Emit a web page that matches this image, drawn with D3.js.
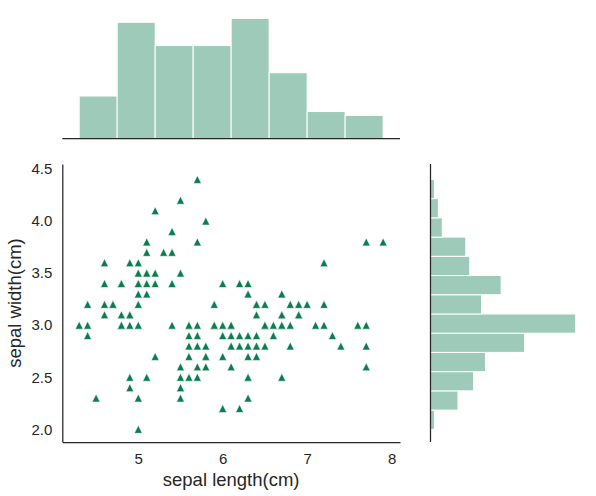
<!DOCTYPE html>
<html lang="en">
<head>
<meta charset="UTF-8">
<title>Iris jointplot</title>
<script src="https://d3js.org/d3.v7.min.js"></script>
<style>
  body { margin: 0; background: #fff; }
  text { font-family: "Liberation Sans", Arial, sans-serif; fill: #262626; }
</style>
</head>
<body>
<div id="chart"></div>
<script>
// iris data: sepal length / sepal width (cm)
const sepalLength = [
  5.1,4.9,4.7,4.6,5.0,5.4,4.6,5.0,4.4,4.9,5.4,4.8,4.8,4.3,5.8,5.7,5.4,5.1,5.7,5.1,
  5.4,5.1,4.6,5.1,4.8,5.0,5.0,5.2,5.2,4.7,4.8,5.4,5.2,5.5,4.9,5.0,5.5,4.9,4.4,5.1,
  5.0,4.5,4.4,5.0,5.1,4.8,5.1,4.6,5.3,5.0,
  7.0,6.4,6.9,5.5,6.5,5.7,6.3,4.9,6.6,5.2,5.0,5.9,6.0,6.1,5.6,6.7,5.6,5.8,6.2,5.6,
  5.9,6.1,6.3,6.1,6.4,6.6,6.8,6.7,6.0,5.7,5.5,5.5,5.8,6.0,5.4,6.0,6.7,6.3,5.6,5.5,
  5.5,6.1,5.8,5.0,5.6,5.7,5.7,6.2,5.1,5.7,
  6.3,5.8,7.1,6.3,6.5,7.6,4.9,7.3,6.7,7.2,6.5,6.4,6.8,5.7,5.8,6.4,6.5,7.7,7.7,6.0,
  6.9,5.6,7.7,6.3,6.7,7.2,6.2,6.1,6.4,7.2,7.4,7.9,6.4,6.3,6.1,7.7,6.3,6.4,6.0,6.9,
  6.7,6.9,5.8,6.8,6.7,6.7,6.3,6.5,6.2,5.9
];
const sepalWidth = [
  3.5,3.0,3.2,3.1,3.6,3.9,3.4,3.4,2.9,3.1,3.7,3.4,3.0,3.0,4.0,4.4,3.9,3.5,3.8,3.8,
  3.4,3.7,3.6,3.3,3.4,3.0,3.4,3.5,3.4,3.2,3.1,3.4,4.1,4.2,3.1,3.2,3.5,3.6,3.0,3.4,
  3.5,2.3,3.2,3.5,3.8,3.0,3.8,3.2,3.7,3.3,
  3.2,3.2,3.1,2.3,2.8,2.8,3.3,2.4,2.9,2.7,2.0,3.0,2.2,2.9,2.9,3.1,3.0,2.7,2.2,2.5,
  3.2,2.8,2.5,2.8,2.9,3.0,2.8,3.0,2.9,2.6,2.4,2.4,2.7,2.7,3.0,3.4,3.1,2.3,3.0,2.5,
  2.6,3.0,2.6,2.3,2.7,3.0,2.9,2.9,2.5,2.8,
  3.3,2.7,3.0,2.9,3.0,3.0,2.5,2.9,2.5,3.6,3.2,2.7,3.0,2.5,2.8,3.2,3.0,3.8,2.6,2.2,
  3.2,2.8,2.8,2.7,3.3,3.2,2.8,3.0,2.8,3.0,2.8,3.8,2.8,2.8,2.6,3.0,3.4,3.1,3.0,3.1,
  3.1,3.1,2.7,3.2,3.3,3.0,2.5,3.0,3.4,3.0
];
const xTicks = [5, 6, 7, 8];
const yTicks = [2.0, 2.5, 3.0, 3.5, 4.0, 4.5];
const topBinCount = 8;
const rightBinCount = 13;

const W = 596, H = 496;
const mainColor = "#0c7d50";

const svg = d3.select("#chart").append("svg")
  .attr("width", W).attr("height", H);
svg.append("rect").attr("width", W).attr("height", H).attr("fill", "#fff");

// scales for the joint axes
const x = d3.scaleLinear().domain([4.1, 8.1]).range([62.3, 400]);
const y = d3.scaleLinear().domain([1.878, 4.548]).range([442, 164]);

// bins with equal widths over the data range (edge values go to the upper bin)
function makeBins(values, n) {
  const [lo, hi] = d3.extent(values);
  const step = (hi - lo) / n;
  const th = d3.range(1, n).map(i => lo + i * step - 1e-9);
  const bins = d3.bin().domain([lo, hi]).thresholds(th)(values);
  bins.forEach((b, i) => { b.x0 = lo + i * step; b.x1 = lo + (i + 1) * step; });
  return bins;
}
const lengthBins = makeBins(sepalLength, topBinCount);
const widthBins = makeBins(sepalWidth, rightBinCount);

// top marginal histogram
const lenMax = d3.max(lengthBins, b => b.length);
const yTop = d3.scaleLinear().domain([0, lenMax * 1.05]).range([138.7, 12.4]);
svg.append("g").selectAll("rect")
  .data(lengthBins)
  .join("rect")
  .attr("x", b => x(b.x0))
  .attr("width", b => x(b.x1) - x(b.x0))
  .attr("y", b => yTop(b.length))
  .attr("height", b => yTop(0) - yTop(b.length))
  .attr("fill", mainColor).attr("fill-opacity", 0.4)
  .attr("stroke", "#fff").attr("stroke-width", 1);
svg.append("line")
  .attr("x1", x.range()[0]).attr("x2", x.range()[1])
  .attr("y1", yTop(0)).attr("y2", yTop(0))
  .attr("stroke", "#262626").attr("stroke-width", 1.25);

// right marginal histogram
const widMax = d3.max(widthBins, b => b.length);
const xRight = d3.scaleLinear().domain([0, widMax * 1.05]).range([430.5, 583]);
svg.append("g").selectAll("rect")
  .data(widthBins)
  .join("rect")
  .attr("x", xRight(0))
  .attr("width", b => xRight(b.length) - xRight(0))
  .attr("y", b => y(b.x1))
  .attr("height", b => y(b.x0) - y(b.x1))
  .attr("fill", mainColor).attr("fill-opacity", 0.4)
  .attr("stroke", "#fff").attr("stroke-width", 1);
svg.append("line")
  .attr("x1", xRight(0)).attr("x2", xRight(0))
  .attr("y1", y.range()[1]).attr("y2", y.range()[0])
  .attr("stroke", "#262626").attr("stroke-width", 1.25);

// scatter of triangles
const triangle = {
  draw(ctx, size) {
    const r = Math.sqrt(size) / 2;
    ctx.moveTo(0, -r);
    ctx.lineTo(r, r);
    ctx.lineTo(-r, r);
    ctx.closePath();
  }
};
svg.append("g").selectAll("path")
  .data(d3.range(sepalLength.length))
  .join("path")
  .attr("transform", i => `translate(${x(sepalLength[i])},${y(sepalWidth[i])})`)
  .attr("d", d3.symbol(triangle, 64))
  .attr("fill", mainColor)
  .attr("stroke", "#fff").attr("stroke-width", 0.6);

// axes (no tick marks, seaborn white style)
const xAxis = svg.append("g")
  .attr("transform", `translate(0,${y.range()[0]})`)
  .call(d3.axisBottom(x).tickValues(xTicks).tickSize(0).tickPadding(11).tickFormat(d3.format("d")));
const yAxis = svg.append("g")
  .attr("transform", `translate(${x.range()[0]},0)`)
  .call(d3.axisLeft(y).tickValues(yTicks).tickSize(0).tickPadding(10).tickFormat(d3.format(".1f")));
[xAxis, yAxis].forEach(a => {
  a.select(".domain").attr("stroke", "#262626").attr("stroke-width", 1.25);
  a.selectAll("text").style("font-size", "15px").attr("fill", "#262626")
    .style("font-family", '"Liberation Sans", Arial, sans-serif');
});

// axis labels
svg.append("text")
  .attr("x", (x.range()[0] + x.range()[1]) / 2)
  .attr("y", 485.5)
  .attr("text-anchor", "middle")
  .style("font-size", "18.5px")
  .text("sepal length(cm)");
svg.append("text")
  .attr("transform", `translate(21,${(y.range()[0] + y.range()[1]) / 2}) rotate(-90)`)
  .attr("text-anchor", "middle")
  .style("font-size", "18.5px")
  .text("sepal width(cm)");
</script>
</body>
</html>
